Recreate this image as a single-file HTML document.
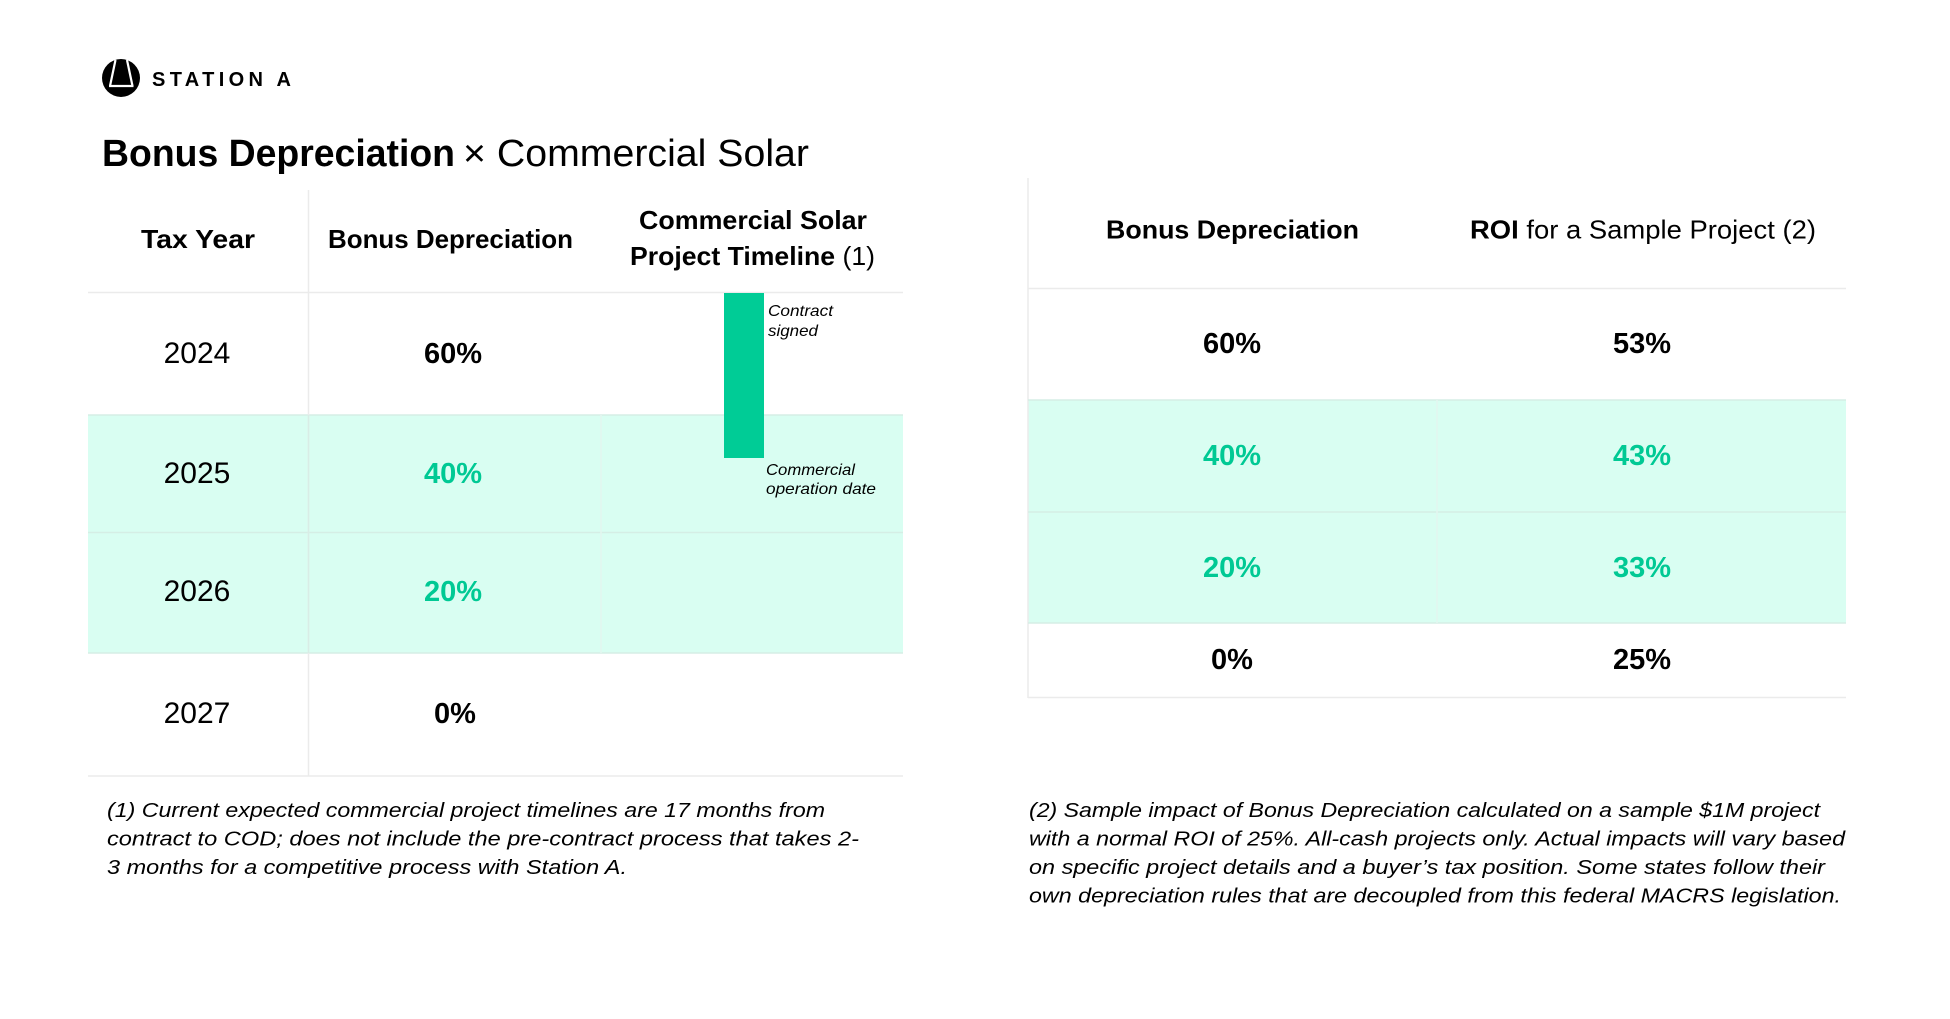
<!DOCTYPE html>
<html>
<head>
<meta charset="utf-8">
<style>
  html, body { margin:0; padding:0; background:#ffffff; }
  body { width:1950px; height:1019px; overflow:hidden; }
  svg { display:block; }
  text { font-family: "Liberation Sans", Arial, sans-serif; fill:#000; }
  .b { font-weight:700; }
  .it { font-style:italic; }
  .g { fill:#00C994; }
</style>
</head>
<body>
<svg width="1950" height="1019" viewBox="0 0 1950 1019" xmlns="http://www.w3.org/2000/svg">
  <rect x="0" y="0" width="1950" height="1019" fill="#ffffff"/>

  <!-- Logo -->
  <circle cx="121" cy="78" r="19" fill="#000"/>
  <g stroke="#fff" stroke-width="2.2" fill="none" stroke-linecap="butt">
    <line x1="115.5" y1="60" x2="110" y2="86"/>
    <line x1="127" y1="60" x2="132.5" y2="86"/>
    <line x1="109" y1="86" x2="133.5" y2="86"/>
  </g>
  <text x="152" y="86" class="b" font-size="20" textLength="139" lengthAdjust="spacing">STATION A</text>

  <!-- Title -->
  <text x="102" y="166" class="b" font-size="38" textLength="353" lengthAdjust="spacingAndGlyphs">Bonus Depreciation</text>
  <text x="463" y="166" font-size="38" textLength="346" lengthAdjust="spacingAndGlyphs">× Commercial Solar</text>

  <!-- LEFT TABLE -->
  <rect x="88" y="415" width="815" height="238" fill="#D9FEF2"/>
  <g stroke="#EBEBEB" stroke-width="1.5">
    <line x1="88" y1="292.5" x2="903" y2="292.5"/>
    <line x1="88" y1="776" x2="903" y2="776"/>
  </g>
  <g stroke="#D5EEE5" stroke-width="1.5">
    <line x1="88" y1="415" x2="903" y2="415"/>
    <line x1="88" y1="532.5" x2="903" y2="532.5"/>
    <line x1="88" y1="653" x2="903" y2="653"/>
  </g>
  <line x1="308.5" y1="190" x2="308.5" y2="776" stroke="#EBEBEB" stroke-width="1.5"/>
  <line x1="308.5" y1="415" x2="308.5" y2="653" stroke="#D8EDE6" stroke-width="1.5"/>
  <line x1="601" y1="415" x2="601" y2="653" stroke="#E3F6EF" stroke-width="1.5"/>

  <!-- headers -->
  <text x="141" y="248" class="b" font-size="26" textLength="114" lengthAdjust="spacingAndGlyphs">Tax Year</text>
  <text x="328" y="248" class="b" font-size="26" textLength="245" lengthAdjust="spacingAndGlyphs">Bonus Depreciation</text>
  <text x="639" y="229" class="b" font-size="26" textLength="228" lengthAdjust="spacingAndGlyphs">Commercial Solar</text>
  <text x="630" y="265" font-size="26" textLength="245" lengthAdjust="spacingAndGlyphs"><tspan class="b">Project Timeline </tspan><tspan>(1)</tspan></text>

  <!-- timeline bar -->
  <rect x="724" y="293" width="40" height="165" fill="#00CC96"/>
  <text x="768" y="316" class="it" font-size="16" textLength="65" lengthAdjust="spacingAndGlyphs">Contract</text>
  <text x="768" y="336" class="it" font-size="16" textLength="50" lengthAdjust="spacingAndGlyphs">signed</text>
  <text x="766" y="475" class="it" font-size="16" textLength="89" lengthAdjust="spacingAndGlyphs">Commercial</text>
  <text x="766" y="494" class="it" font-size="16" textLength="110" lengthAdjust="spacingAndGlyphs">operation date</text>

  <!-- values -->
  <text x="197" y="363" font-size="30" text-anchor="middle">2024</text>
  <text x="453" y="363" class="b" font-size="29" text-anchor="middle">60%</text>
  <text x="197" y="483" font-size="30" text-anchor="middle">2025</text>
  <text x="453" y="483" class="b g" font-size="29" text-anchor="middle">40%</text>
  <text x="197" y="601" font-size="30" text-anchor="middle">2026</text>
  <text x="453" y="601" class="b g" font-size="29" text-anchor="middle">20%</text>
  <text x="197" y="723" font-size="30" text-anchor="middle">2027</text>
  <text x="455" y="723" class="b" font-size="29" text-anchor="middle">0%</text>

  <!-- RIGHT TABLE -->
  <rect x="1028" y="400" width="818" height="223" fill="#D9FEF2"/>
  <line x1="1028" y1="178" x2="1028" y2="698" stroke="#EBEBEB" stroke-width="1.5"/>
  <g stroke="#EBEBEB" stroke-width="1.5">
    <line x1="1028" y1="288.5" x2="1846" y2="288.5"/>
    <line x1="1028" y1="697.5" x2="1846" y2="697.5"/>
  </g>
  <g stroke="#D5EEE5" stroke-width="1.5">
    <line x1="1028" y1="400" x2="1846" y2="400"/>
    <line x1="1028" y1="512" x2="1846" y2="512"/>
    <line x1="1028" y1="623" x2="1846" y2="623"/>
  </g>
  <line x1="1437" y1="400" x2="1437" y2="623" stroke="#E3F6EF" stroke-width="1.5"/>

  <text x="1106" y="238.5" class="b" font-size="26" textLength="253" lengthAdjust="spacingAndGlyphs">Bonus Depreciation</text>
  <text x="1470" y="238.5" font-size="26" textLength="346" lengthAdjust="spacingAndGlyphs"><tspan class="b">ROI</tspan><tspan> for a Sample Project (2)</tspan></text>

  <text x="1232" y="353" class="b" font-size="29" text-anchor="middle">60%</text>
  <text x="1642" y="353" class="b" font-size="29" text-anchor="middle">53%</text>
  <text x="1232" y="465" class="b g" font-size="29" text-anchor="middle">40%</text>
  <text x="1642" y="465" class="b g" font-size="29" text-anchor="middle">43%</text>
  <text x="1232" y="577" class="b g" font-size="29" text-anchor="middle">20%</text>
  <text x="1642" y="577" class="b g" font-size="29" text-anchor="middle">33%</text>
  <text x="1232" y="669" class="b" font-size="29" text-anchor="middle">0%</text>
  <text x="1642" y="669" class="b" font-size="29" text-anchor="middle">25%</text>

  <!-- FOOTNOTES -->
  <g fill="#111">
    <text x="107" y="817" class="it" font-size="20.5" textLength="718" lengthAdjust="spacingAndGlyphs">(1) Current expected commercial project timelines are 17 months from</text>
    <text x="107" y="845.5" class="it" font-size="20.5" textLength="752" lengthAdjust="spacingAndGlyphs">contract to COD; does not include the pre-contract process that takes 2-</text>
    <text x="107" y="874" class="it" font-size="20.5" textLength="520" lengthAdjust="spacingAndGlyphs">3 months for a competitive process with Station A.</text>

    <text x="1029" y="817" class="it" font-size="20.5" textLength="791" lengthAdjust="spacingAndGlyphs">(2) Sample impact of Bonus Depreciation calculated on a sample $1M project</text>
    <text x="1029" y="845.5" class="it" font-size="20.5" textLength="816" lengthAdjust="spacingAndGlyphs">with a normal ROI of 25%. All-cash projects only. Actual impacts will vary based</text>
    <text x="1029" y="874" class="it" font-size="20.5" textLength="796" lengthAdjust="spacingAndGlyphs">on specific project details and a buyer’s tax position. Some states follow their</text>
    <text x="1029" y="902.5" class="it" font-size="20.5" textLength="812" lengthAdjust="spacingAndGlyphs">own depreciation rules that are decoupled from this federal MACRS legislation.</text>
  </g>
</svg>
</body>
</html>
